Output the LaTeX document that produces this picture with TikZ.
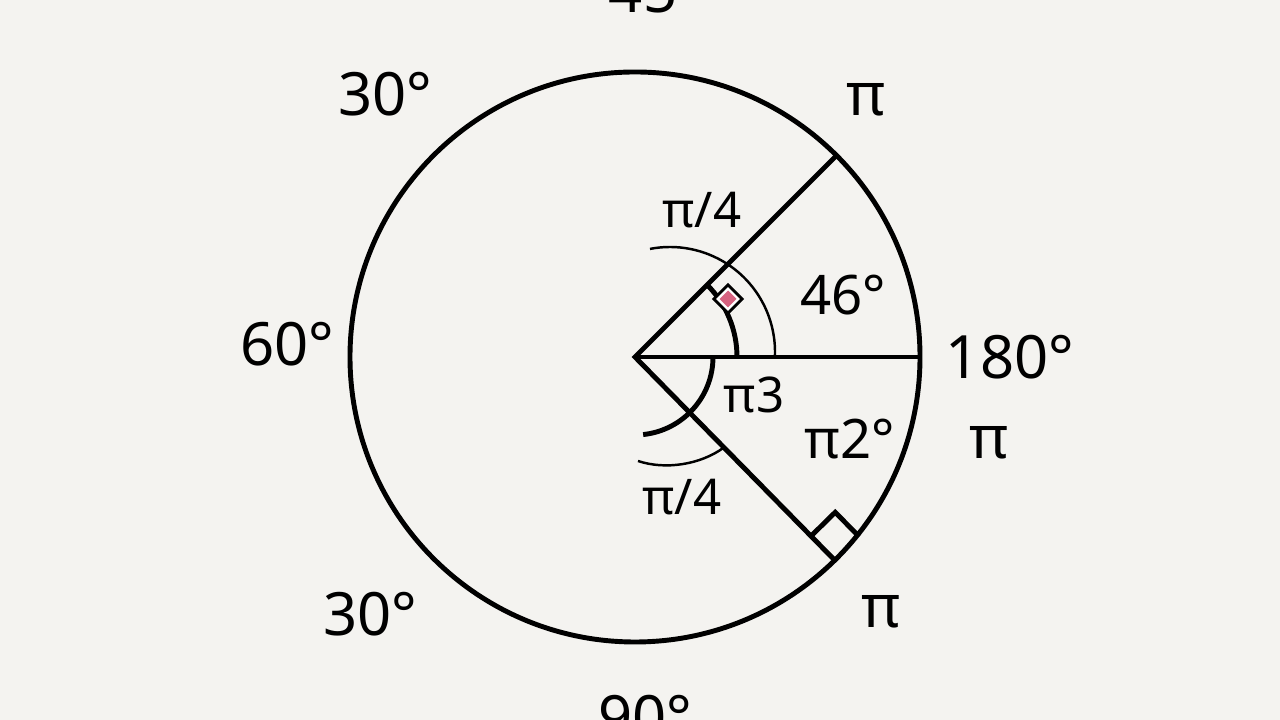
\documentclass[tikz,border=0pt]{standalone}
\usepackage{fontspec}
\setmainfont{Noto Sans}
\definecolor{bgcol}{RGB}{244,243,240}
\definecolor{marksq}{RGB}{214,98,128}
\tikzset{
	big/.style={font=\fontsize{17}{20}\selectfont},
	mid/.style={font=\fontsize{15.5}{18}\selectfont},
	sml/.style={font=\fontsize{14}{17}\selectfont},
	heavy/.style={line width=1.4pt},
	light/.style={line width=0.7pt}
}
\begin{document}
\begin{tikzpicture}
	\fill[bgcol] (-6.35,-3.63) rectangle (6.45,3.57);
	\useasboundingbox (-6.35,-3.63) rectangle (6.45,3.57);
	\coordinate(o) at (0,0);
	\coordinate(up) at (45:2.85);
	\coordinate(rt) at (0:2.85);
	\coordinate(dn) at (-45.5:2.85);
	\draw[heavy] (o) circle (2.85);
	\draw[heavy,line join=miter] (up) -- (o) -- (dn);
	\draw[heavy] (o) -- (rt);
	\draw[heavy] (1.02,0) arc (0:45:1.02);
	\draw[light] (0.35,0.05) ++(-3:1.05) arc (-3:101:1.05);
	\draw[heavy] (0.78,0) arc (0:-84:0.78);
	\coordinate(lo1) at (0.03,-1.04);
	\coordinate(lo2) at (0.889,-0.905);
	\draw[light] (lo1) .. controls (0.3,-1.13) and (0.65,-1.08) .. (lo2);
	\coordinate(r1) at (1.760,-1.791);
	\coordinate(r2) at (2.002,-1.553);
	\coordinate(r3) at (2.240,-1.795);
	\draw[heavy] (r1) -- (r2) -- (r3);
	\node(sq) at (0.93,0.58) [draw=black,line width=0.8pt,fill=white,rotate=45,minimum size=0.2cm,inner sep=0pt] {};
	\node(sqin) at (sq.center) [fill=marksq,rotate=45,minimum size=0.12cm,inner sep=0pt] {};
	\node(t45)[big] at (0.08,3.66) {45};
	\node(a30)[big] at (-2.50,2.63) {30°};
	\node(apiu)[big] at (2.31,2.57) {π};
	\node(api4u)[sml] at (0.67,1.47) {π/4};
	\node(a46)[mid] at (2.08,0.62) {46°};
	\node(a60)[big] at (-3.48,0.13) {60°};
	\node(a180)[big] at (3.75,0.0) {180°};
	\node(api3)[sml] at (1.19,-0.38) {π3};
	\node(api2)[mid] at (2.15,-0.82) {π2°};
	\node(apir)[big] at (3.54,-0.86) {π};
	\node(api4d)[sml] at (0.47,-1.40) {π/4};
	\node(b30)[big] at (-2.65,-2.57) {30°};
	\node(apid)[big] at (2.46,-2.55) {π};
	\node(b90)[big] at (0.10,-3.60) {90°};
\end{tikzpicture}
\end{document}
